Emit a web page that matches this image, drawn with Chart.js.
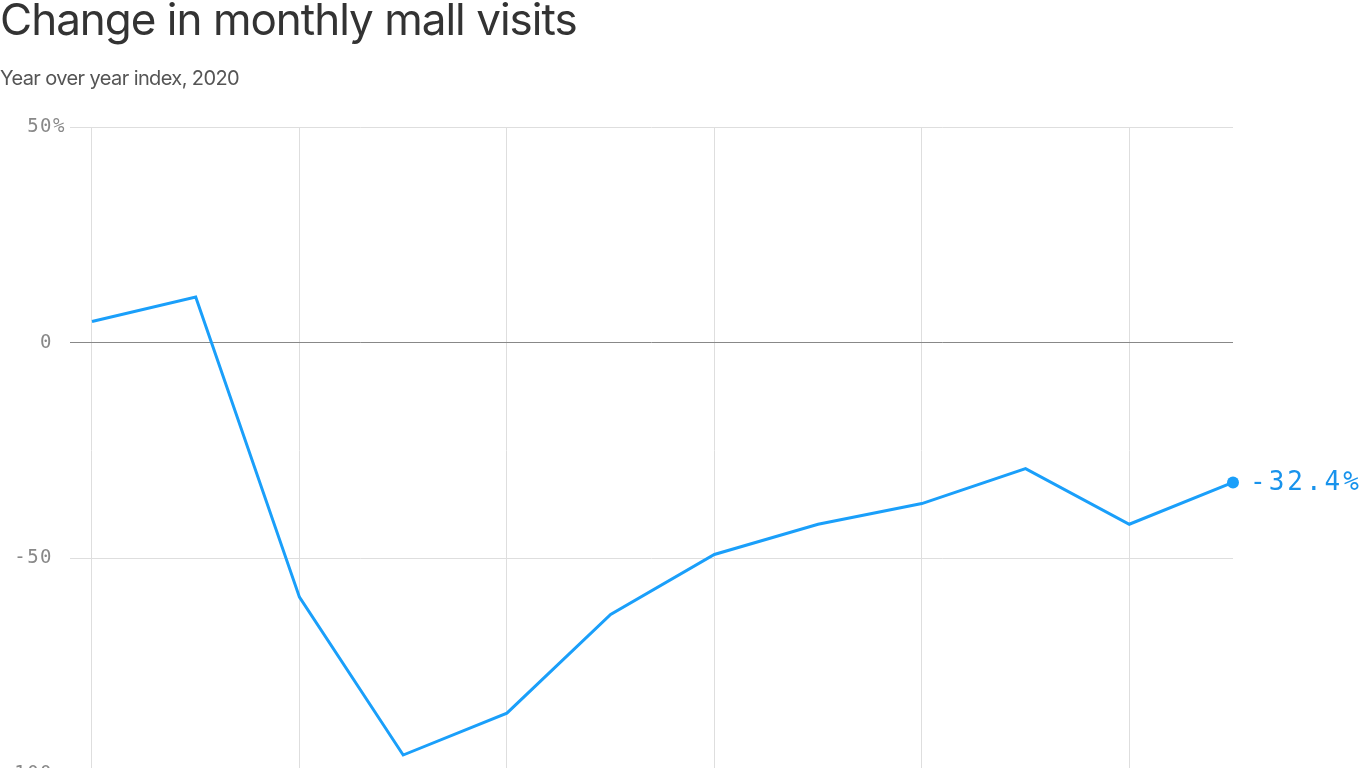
<!DOCTYPE html>
<html>
<head>
<meta charset="utf-8">
<script src="https://cdn.jsdelivr.net/npm/chart.js@4.4.1/dist/chart.umd.min.js"></script>
<style>
  html, body { margin: 0; padding: 0; background: #fff; overflow: hidden; }
  #wrap { position: relative; width: 1366px; height: 768px; overflow: hidden; }
  #title {
    position: absolute; left: 0; top: -8px; margin: 0;
    font-family: Inter, "Noto Sans", sans-serif; font-weight: 400;
    font-size: 44px; letter-spacing: -1px; color: #333;
  }
  #subtitle {
    position: absolute; left: 0; top: 66px; margin: 0;
    font-family: Inter, "Noto Sans", sans-serif;
    font-size: 20px; letter-spacing: -0.6px; color: #555;
  }
  #box { position: absolute; left: 0; top: 0; width: 1366px; height: 800px; }
</style>
</head>
<body>
<div id="wrap">
  <div id="box"><canvas id="chart"></canvas></div>
  <h1 id="title">Change in monthly mall visits</h1>
  <p id="subtitle">Year over year index, 2020</p>
</div>
<script>
// Data
const months = ['Jan', 'Feb', 'Mar', 'Apr', 'May', 'Jun', 'Jul', 'Aug', 'Sep', 'Oct', 'Nov', 'Dec'];
const visitChange = [4.9, 10.6, -59.0, -95.6, -85.9, -63.0, -49.1, -42.1, -37.3, -29.2, -42.1, -32.4];
const yTicks = [-100, -50, 0, 50];
const yTickLabels = ['-100', '-50', '0', '50%'];
const xGridMonths = [0, 2, 4, 6, 8, 10];

const BLUE = '#1a9ffa';
const MONO = '"DejaVu Sans Mono", "Liberation Mono", monospace';

// wider letter spacing for the mono axis labels
const spacing = {
  id: 'spacing',
  beforeDraw(chart) { chart.ctx.letterSpacing = '1.5px'; },
  afterDraw(chart) { chart.ctx.letterSpacing = '0px'; }
};

// Last value label to the right of the final point
const endLabel = {
  id: 'endLabel',
  afterDatasetsDraw(chart) {
    const meta = chart.getDatasetMeta(0);
    const last = meta.data[meta.data.length - 1];
    const v = visitChange[visitChange.length - 1];
    const ctx = chart.ctx;
    ctx.save();
    ctx.font = '26px ' + MONO;
    ctx.letterSpacing = '3px';
    ctx.fillStyle = '#1893ec';
    ctx.textAlign = 'left';
    ctx.textBaseline = 'middle';
    ctx.fillText(v.toFixed(1) + '%', last.x + 17, last.y + 1);
    ctx.restore();
  }
};

new Chart(document.getElementById('chart'), {
  type: 'line',
  data: {
    datasets: [{
      data: visitChange.map((v, i) => ({ x: i, y: v })),
      borderColor: BLUE,
      backgroundColor: BLUE,
      borderWidth: 3,
      tension: 0,
      clip: false,
      pointRadius: visitChange.map((v, i) => i === visitChange.length - 1 ? 6 : 0),
      pointBorderWidth: 0
    }]
  },
  plugins: [spacing, endLabel],
  options: {
    responsive: true,
    maintainAspectRatio: false,
    animation: false,
    layout: { padding: { top: 127, right: 133, bottom: 26, left: 0 } },
    plugins: { legend: { display: false }, tooltip: { enabled: false } },
    scales: {
      x: {
        type: 'linear',
        min: -0.212,
        max: 11,
        afterBuildTicks: (scale) => { scale.ticks = xGridMonths.map(v => ({ value: v })); },
        ticks: { display: false },
        grid: { color: '#dedede', lineWidth: 1, drawTicks: false },
        border: { display: false }
      },
      y: {
        min: -100,
        max: 50,
        afterBuildTicks: (scale) => { scale.ticks = yTicks.map(v => ({ value: v })); },
        afterFit: (scale) => { scale.width = 70; },
        ticks: {
          padding: 4,
          color: '#888',
          font: { family: MONO, size: 19 },
          callback: (value) => {
            const s = yTickLabels[yTicks.indexOf(value)];
            return s.endsWith('%') ? s : s + ' ';
          }
        },
        grid: {
          color: (c) => c.tick && c.tick.value === 0 ? '#888' : '#dedede',
          lineWidth: 1,
          drawTicks: false
        },
        border: { display: false }
      }
    }
  }
});
</script>
</body>
</html>
